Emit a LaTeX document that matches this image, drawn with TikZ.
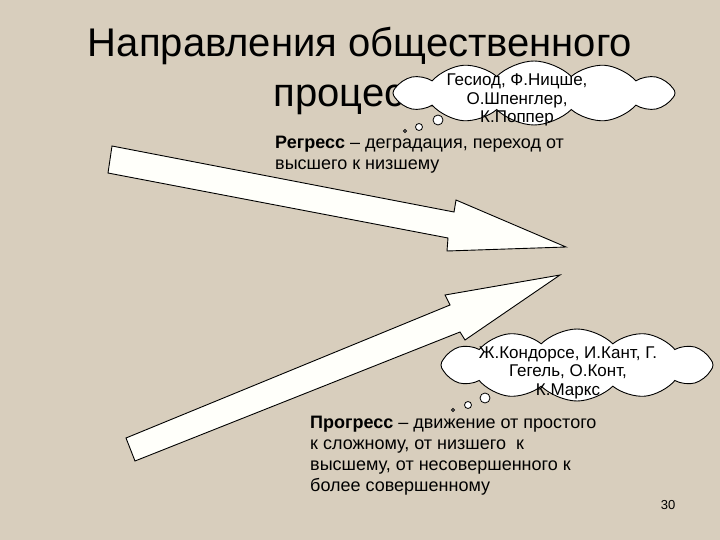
\documentclass[tikz,border=0pt]{standalone}
\usepackage{fontspec}
\setmainfont{Liberation Sans}
\usetikzlibrary{shapes.symbols}

\definecolor{slidebg}{RGB}{216,206,189}
\definecolor{arrowfill}{RGB}{255,255,250}

\tikzset{
  blockarrow/.style={draw=black,line width=0.9pt,fill=arrowfill,line join=miter},
  thought/.style={cloud,draw=black,line width=0.9pt,fill=white,cloud puffs=12,
    cloud puff arc=90,cloud ignores aspect,inner sep=0pt},
  bubble/.style={draw=black,line width=0.8pt,fill=white},
  cloudtext/.style={align=center,inner sep=0pt,font=\fontsize{17}{18.5}\selectfont},
  bodytext/.style={align=left,inner sep=0pt,anchor=base west,font=\fontsize{18}{21}\selectfont}
}

\begin{document}
\begin{tikzpicture}[x=1pt,y=-1pt]
\fill[slidebg] (0,0) rectangle (720,540);
\useasboundingbox (0,0) rectangle (720,540);

% title (base = last line)
\node[align=center,inner sep=0pt,anchor=base,font=\fontsize{40}{50}\selectfont]
  (title) at (360,107) {Направления общественного\\процесса};

% regress arrow
\draw[blockarrow] (112,146)--(454,212)--(456,200)--(566,247)--(447,251)--(448,238)--(108,173)--cycle;
% progress arrow
\draw[blockarrow] (126,438)--(450,305)--(445,295)--(560,275)--(465,340)--(460,332)--(135,461)--cycle;

% clouds
\node[thought,minimum width=282pt,minimum height=64pt] (cloudA) at (534,93) {};
\draw[bubble] (438,120) circle (5pt);
\draw[bubble] (419,127) circle (3.5pt);
\draw[bubble] (405,131) circle (1.5pt);
\node[cloudtext,anchor=base] (namesA) at (517,123) {Гесиод, Ф.Ницше,\\О.Шпенглер,\\К.Поппер};

\node[thought,minimum width=272pt,minimum height=72pt] (cloudB) at (577,365) {};
\draw[bubble] (485,398) circle (5pt);
\draw[bubble] (468,405) circle (3.5pt);
\draw[bubble] (453,410) circle (1.5pt);
\node[cloudtext,anchor=base] (namesB) at (568,395) {Ж.Кондорсе, И.Кант, Г.\\Гегель, О.Конт,\\К.Маркс};

% texts
\node[bodytext] (regress) at (275,170) {\textbf{Регресс} -- деградация, переход от\\высшего к низшему};
\node[bodytext] (progress) at (310,491) {\textbf{Прогресс} -- движение от простого\\к сложному, от низшего\ \ к\\высшему, от несовершенного к\\более совершенному};

\node[inner sep=0pt,font=\fontsize{13}{15}\selectfont] (pagenum) at (668,505) {30};
\end{tikzpicture}
\end{document}
